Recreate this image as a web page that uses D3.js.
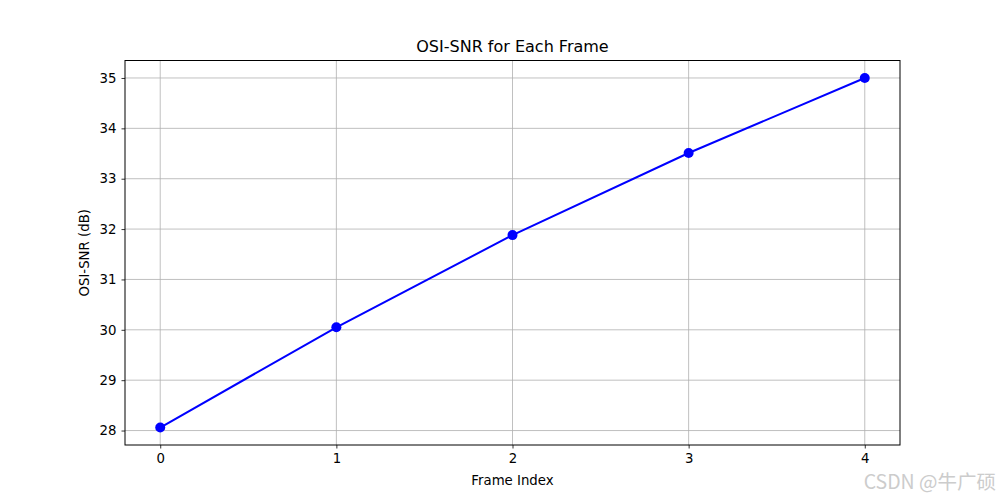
<!DOCTYPE html>
<html>
<head>
<meta charset="utf-8">
<script src="https://cdn.jsdelivr.net/npm/d3@7"></script>
<style>
  body { margin: 0; background: #fff; }
  text { font-family: "DejaVu Sans", sans-serif; }
</style>
</head>
<body>
<svg id="chart" width="1000" height="500"></svg>
<script>
// values
const frames = [0, 1, 2, 3, 4];
const osiSnr = [28.06, 30.05, 31.88, 33.51, 35.0];
const xTicks = [0, 1, 2, 3, 4];
const yTicks = [28, 29, 30, 31, 32, 33, 34, 35];

const width = 1000, height = 500;
const margin = { top: 60.5, right: 100, bottom: 55, left: 125 };
const chartwidth = width - margin.left - margin.right;
const chartheight = height - margin.top - margin.bottom;

const svg = d3.select('#chart');
svg.append('rect').attr('width', width).attr('height', height).attr('fill', '#fff');

// matplotlib style 5% padding
const xPad = (d3.max(frames) - d3.min(frames)) * 0.05;
const yPad = (d3.max(osiSnr) - d3.min(osiSnr)) * 0.05;
const xScale = d3.scaleLinear()
  .domain([d3.min(frames) - xPad, d3.max(frames) + xPad])
  .range([0, chartwidth]);
const yScale = d3.scaleLinear()
  .domain([d3.min(osiSnr) - yPad, d3.max(osiSnr) + yPad])
  .range([chartheight, 0]);

const chart = svg.append('g')
  .attr('transform', `translate(${margin.left},${margin.top})`);

// grid
chart.append('g').selectAll('line')
  .data(xTicks).enter().append('line')
  .attr('x1', d => xScale(d)).attr('x2', d => xScale(d))
  .attr('y1', 0).attr('y2', chartheight)
  .attr('stroke', '#b0b0b0').attr('stroke-width', 0.8);
chart.append('g').selectAll('line')
  .data(yTicks).enter().append('line')
  .attr('y1', d => yScale(d)).attr('y2', d => yScale(d))
  .attr('x1', 0).attr('x2', chartwidth)
  .attr('stroke', '#b0b0b0').attr('stroke-width', 0.8);

// axes
const xAxis = chart.append('g')
  .attr('transform', `translate(0,${chartheight})`)
  .call(d3.axisBottom(xScale).tickValues(xTicks).tickFormat(d3.format('d')).tickSize(3.5).tickPadding(5));
const yAxis = chart.append('g')
  .call(d3.axisLeft(yScale).tickValues(yTicks).tickFormat(d3.format('d')).tickSize(3.5).tickPadding(5));
[xAxis, yAxis].forEach(a => {
  a.select('.domain').remove();
  a.selectAll('text').attr('font-size', 13.3).attr('fill', '#000')
    .style('font-family', '"DejaVu Sans", sans-serif');
  a.selectAll('line').attr('stroke', '#000').attr('stroke-width', 0.8);
});

// frame
chart.append('rect')
  .attr('width', chartwidth).attr('height', chartheight)
  .attr('fill', 'none').attr('stroke', '#000').attr('stroke-width', 1);

// line + markers
const points = frames.map((f, i) => ({ time: f, data: osiSnr[i] }));
const line = d3.line().x(d => xScale(d.time)).y(d => yScale(d.data));
chart.append('path')
  .datum(points)
  .attr('fill', 'none')
  .attr('stroke', '#0000ff')
  .attr('stroke-width', 2)
  .attr('d', line);
chart.selectAll('.data-point')
  .data(points).enter().append('circle')
  .attr('class', 'data-point')
  .attr('cx', d => xScale(d.time))
  .attr('cy', d => yScale(d.data))
  .attr('r', 5)
  .attr('fill', '#0000ff');

// labels
svg.append('text')
  .attr('x', margin.left + chartwidth / 2).attr('y', 52)
  .attr('text-anchor', 'middle').attr('font-size', 16)
  .text('OSI-SNR for Each Frame');
svg.append('text')
  .attr('x', margin.left + chartwidth / 2).attr('y', 485)
  .attr('text-anchor', 'middle').attr('font-size', 13.3)
  .text('Frame Index');
svg.append('text')
  .attr('transform', `translate(89,${margin.top + chartheight / 2}) rotate(-90)`)
  .attr('text-anchor', 'middle').attr('font-size', 13.3)
  .text('OSI-SNR (dB)');

// watermark
svg.append('text')
  .attr('x', 996).attr('y', 489)
  .attr('text-anchor', 'end').attr('font-size', 19.5)
  .attr('fill', '#cccccc')
  .style('font-family', '"Noto Sans CJK SC", "Noto Sans", sans-serif')
  .text('CSDN @牛广硕');
</script>
</body>
</html>
